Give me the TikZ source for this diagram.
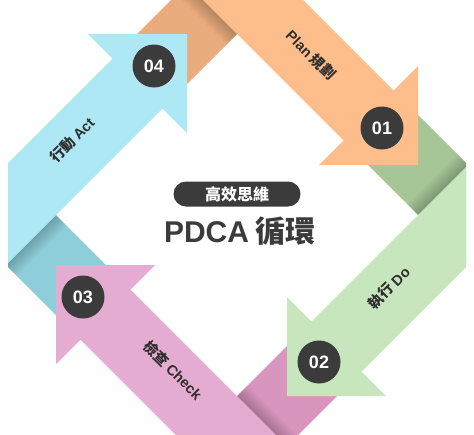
\documentclass[tikz,border=0pt]{standalone}
\usepackage{fontspec}
\setmainfont{Noto Sans CJK TC}
\newfontfamily\latfont{Liberation Sans}
\newcommand\latb[1]{{\latfont\bfseries #1}}
\definecolor{lorange}{HTML}{FDBE8C}
\definecolor{dorange}{HTML}{EAAC7D}
\definecolor{lgreen}{HTML}{C8E6BE}
\definecolor{dgreen}{HTML}{A6C698}
\definecolor{lpink}{HTML}{E4ACD0}
\definecolor{dpink}{HTML}{D896BE}
\definecolor{lcyan}{HTML}{AEE8F5}
\definecolor{dcyan}{HTML}{8ECEDA}
\definecolor{dgray}{HTML}{3B3B3B}
\definecolor{tgray}{HTML}{2E2E2E}
\newcommand\darkpart[2]{%
  \begin{scope}[rotate=#2]
    \fill[#1] (110.5,-70.5) -- (160.5,-120.5) -- (229,-52) -- (229,48) -- cycle;
    \begin{scope}
      \clip (110.5,-70.5) -- (160.5,-120.5) -- (229,-52) -- (229,48) -- cycle;
      \foreach \w in {3,6,...,21} {
        \fill[black,fill opacity=0.03] ({(181-\w)/2+150},{(181-\w)/2-150}) -- ({(181-\w)/2-150},{(181-\w)/2+150}) -- (-59.5,240.5) -- (240.5,-59.5) -- cycle;
      }
    \end{scope}
  \end{scope}}
\newcommand\lightpart[2]{%
  \begin{scope}[rotate=#2]
    \fill[#1] (-48,-229) -- (52,-229) -- (156.5,-124.5) -- (181,-149) -- (181,-50) -- (82,-50) -- (106.5,-74.5) -- cycle;
  \end{scope}}
\tikzset{
  numcirc/.style={circle, fill=dgray, minimum size=43, inner sep=0pt, text=white, font=\latfont\bfseries\fontsize{18}{18}\selectfont},
  bandlbl/.style={text=tgray, inner sep=0pt, font=\bfseries\fontsize{14.5}{14.5}\selectfont},
  pillbox/.style={fill=dgray, rounded corners=12.5pt, minimum width=127, minimum height=25, inner sep=0pt, text=white, font=\bfseries\fontsize{16}{16}\selectfont},
  titletext/.style={text=dgray, inner sep=0pt, font=\bfseries\fontsize{30}{30}\selectfont}
}
\begin{document}
\begin{tikzpicture}[x=1pt,y=-1pt]
\useasboundingbox (0,0) rectangle (474,434);
\clip (0,0) rectangle (474,434);
\begin{scope}[shift={(237,215)}]
  \darkpart{dgreen}{0}
  \darkpart{dpink}{-90}
  \darkpart{dcyan}{-180}
  \darkpart{dorange}{-270}
  \lightpart{lorange}{0}
  \lightpart{lgreen}{-90}
  \lightpart{lpink}{-180}
  \lightpart{lcyan}{-270}
\end{scope}
\node[numcirc] (n01) at (382,128) {01};
\node[numcirc] (n02) at (319,362) {02};
\node[numcirc] (n03) at (83,297) {03};
\node[numcirc] (n04) at (154,66) {04};
\node[bandlbl, rotate=-45] (plan) at (311,55) {\latb{Plan} 規劃};
\node[bandlbl, rotate=45] (do) at (389,288) {執行 \latb{Do}};
\node[bandlbl, rotate=-45] (check) at (173,370) {檢查 \latb{Check}};
\node[bandlbl, rotate=45] (act) at (72,140) {行動 \latb{Act}};
\node[pillbox] (pill) at (237,194) {高效思維};
\node[titletext] (title) at (240,231) {\latb{PDCA} 循環};
\end{tikzpicture}
\end{document}
